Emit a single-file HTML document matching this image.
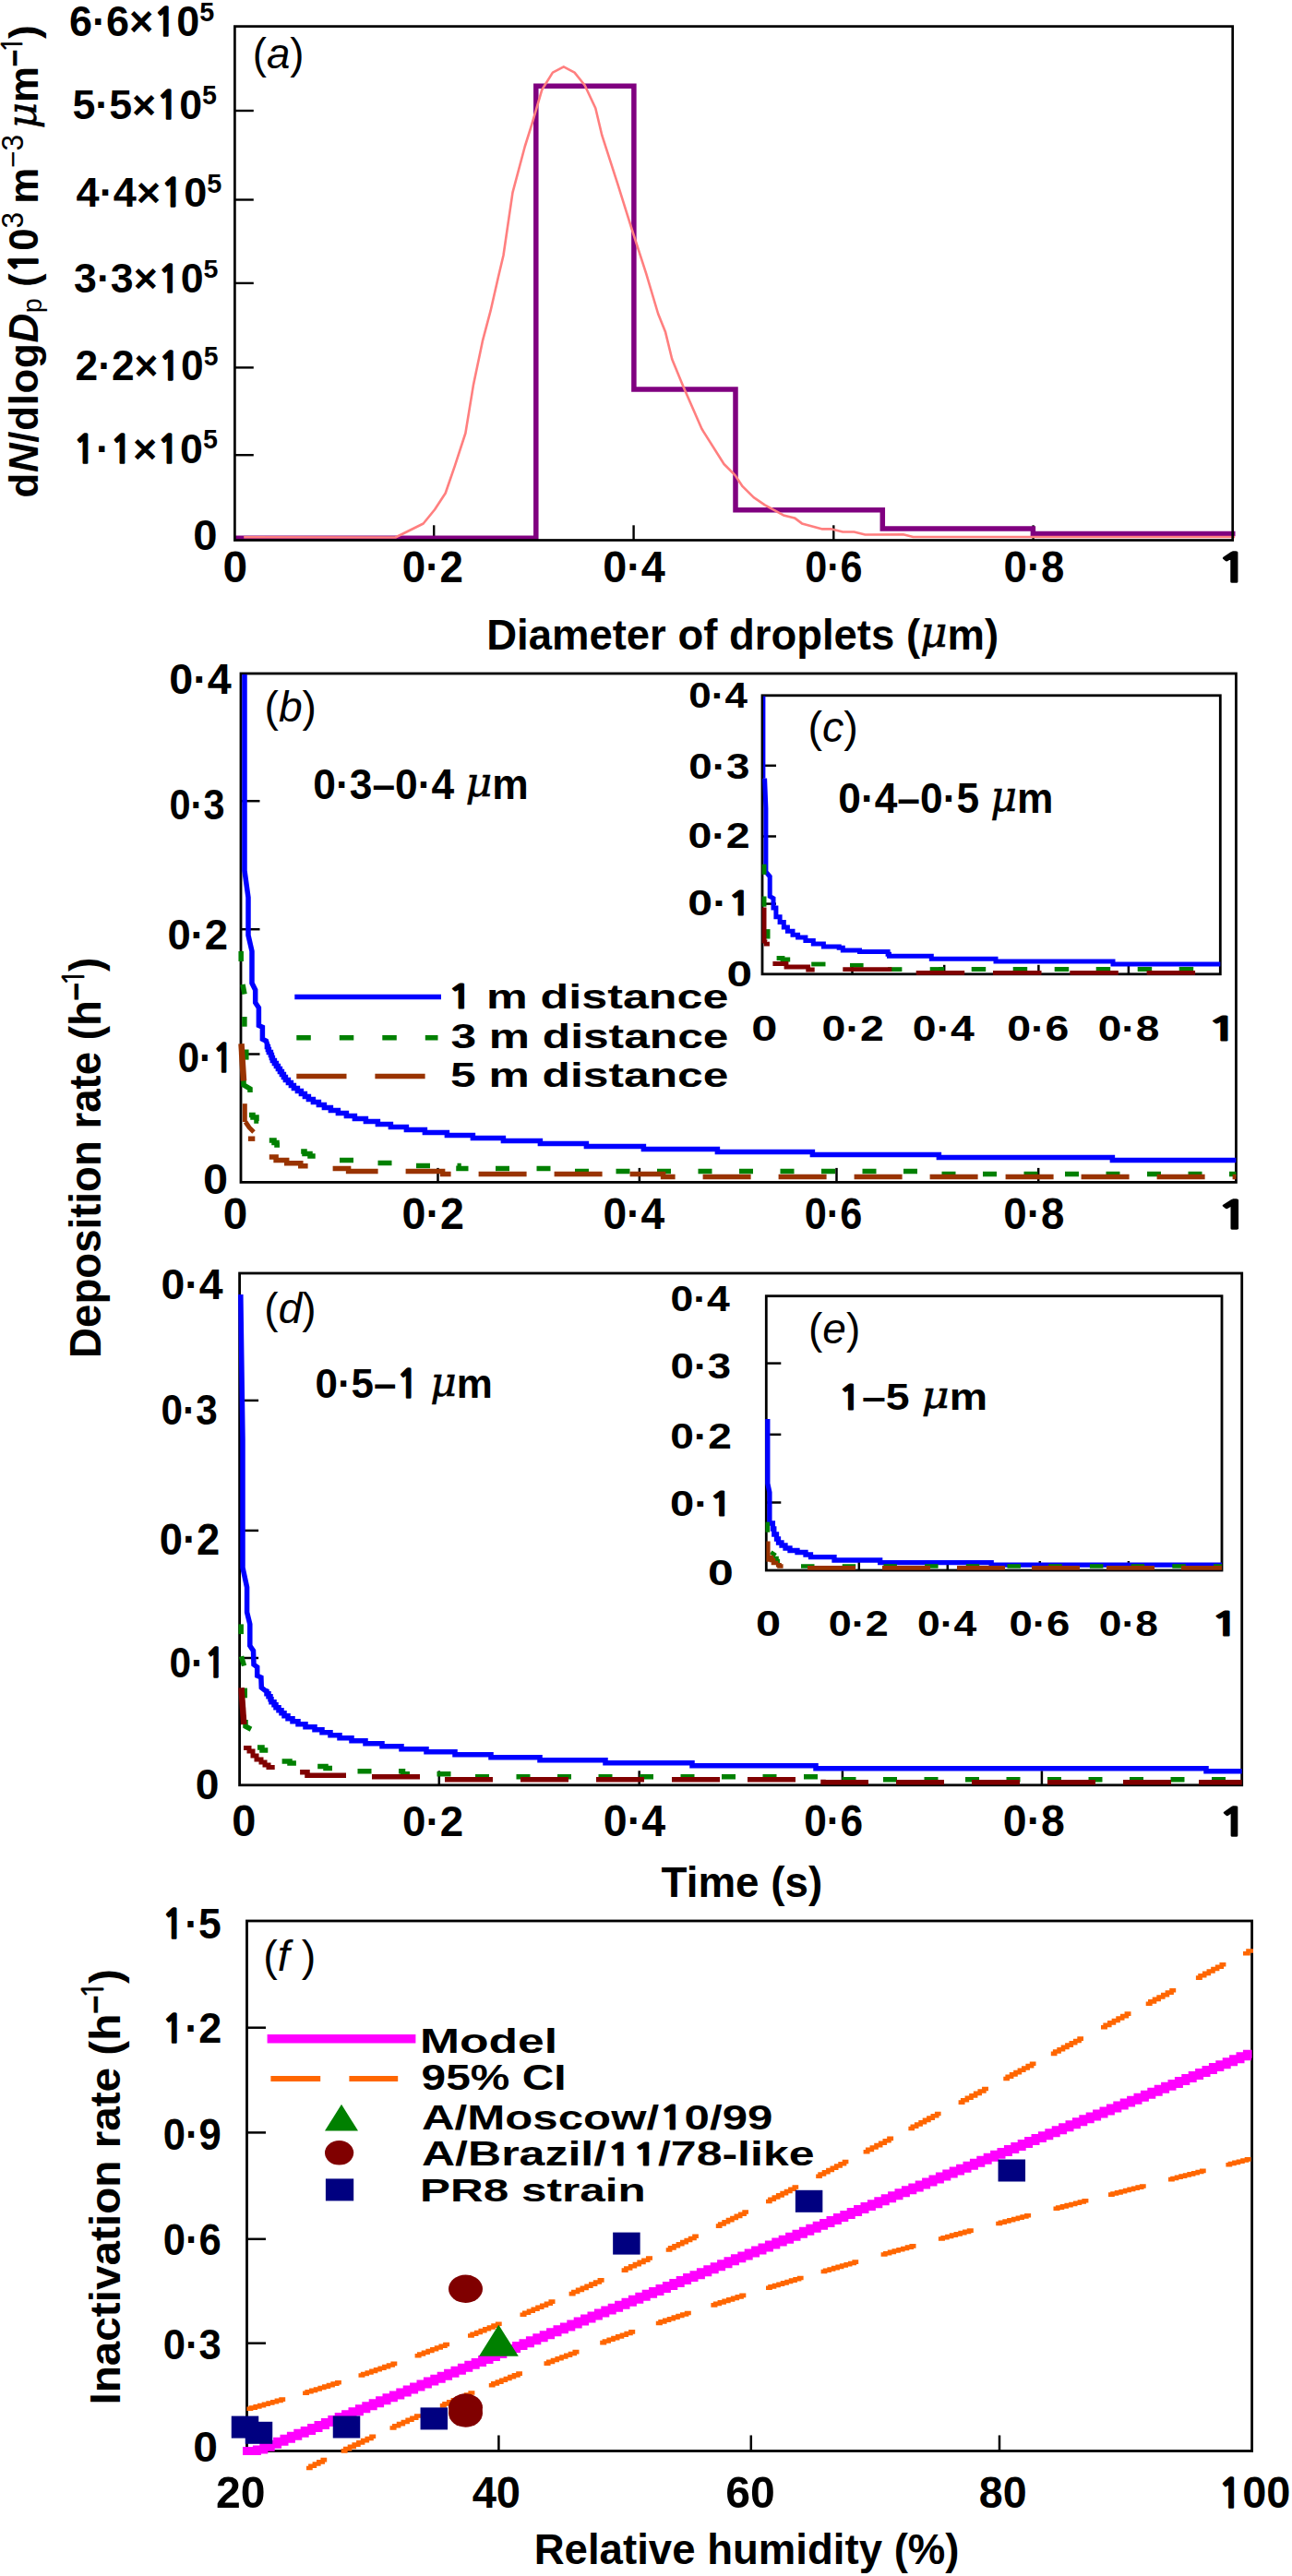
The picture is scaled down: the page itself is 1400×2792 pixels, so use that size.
<!DOCTYPE html>
<html><head><meta charset="utf-8"><title>Figure</title>
<style>html,body{margin:0;padding:0;background:#fff}svg{display:block}</style></head>
<body><svg width="1400" height="2792" viewBox="0 0 1400 2792">
<rect width="1400" height="2792" fill="#fff"/>
<line x1="254.40" y1="493.20" x2="274.80" y2="493.20" stroke="#000" stroke-width="2.4" />
<line x1="254.40" y1="398.40" x2="274.80" y2="398.40" stroke="#000" stroke-width="2.4" />
<line x1="254.40" y1="306.90" x2="274.80" y2="306.90" stroke="#000" stroke-width="2.4" />
<line x1="254.40" y1="216.50" x2="274.80" y2="216.50" stroke="#000" stroke-width="2.4" />
<line x1="254.40" y1="120.00" x2="274.80" y2="120.00" stroke="#000" stroke-width="2.4" />
<line x1="470.20" y1="585.30" x2="470.20" y2="569.30" stroke="#000" stroke-width="2.4" />
<line x1="686.60" y1="585.30" x2="686.60" y2="569.30" stroke="#000" stroke-width="2.4" />
<line x1="903.30" y1="585.30" x2="903.30" y2="569.30" stroke="#000" stroke-width="2.4" />
<line x1="1119.60" y1="585.30" x2="1119.60" y2="569.30" stroke="#000" stroke-width="2.4" />
<path d="M254.2 583.3 H580.8 V93.3 H686.9 V422.0 H797.0 V552.7 H956.3 V573.0 H1119.4 V578.4 H1338.5" fill="none" stroke="#800080" stroke-width="5.5" stroke-linejoin="miter"/>
<path d="M264.20 582.30 L428.50 582.50 L458.70 567.50 L471.10 552.30 L482.70 534.50 L492.80 505.10 L504.40 469.50 L512.90 417.60 L522.90 369.70 L531.50 337.20 L540.00 300.00 L545.50 276.70 L555.50 208.60 L568.70 159.00 L576.40 134.30 L587.30 97.20 L598.90 78.60 L610.80 72.40 L622.60 78.60 L633.70 92.50 L645.30 117.30 L652.30 146.70 L669.30 199.30 L684.80 248.90 L700.30 296.80 L713.10 340.00 L721.10 360.10 L728.20 389.30 L740.20 418.50 L760.40 464.80 L784.50 503.00 L796.60 515.10 L804.60 527.20 L816.70 539.20 L828.80 547.30 L848.90 558.40 L861.00 561.40 L869.00 567.40 L891.20 573.40 L901.20 573.40 L913.30 576.50 L925.40 576.50 L937.50 579.50 L978.70 579.30 L989.50 582.00 L1338.00 582.00" fill="none" stroke="#ff7f7f" stroke-width="2.6" stroke-linejoin="round"/>
<rect x="254.40" y="28.60" width="1081.30" height="556.90" fill="none" stroke="#000" stroke-width="2.7"/>
<rect x="261.00" y="730.00" width="1078.40" height="551.40" fill="none" stroke="#000" stroke-width="2.8"/>
<line x1="261.00" y1="1142.50" x2="281.50" y2="1142.50" stroke="#000" stroke-width="2.5" />
<line x1="261.00" y1="1007.20" x2="281.50" y2="1007.20" stroke="#000" stroke-width="2.5" />
<line x1="261.00" y1="868.20" x2="281.50" y2="868.20" stroke="#000" stroke-width="2.5" />
<line x1="474.50" y1="1281.40" x2="474.50" y2="1265.90" stroke="#000" stroke-width="2.5" />
<line x1="692.90" y1="1281.40" x2="692.90" y2="1265.90" stroke="#000" stroke-width="2.5" />
<line x1="906.50" y1="1281.40" x2="906.50" y2="1265.90" stroke="#000" stroke-width="2.5" />
<line x1="1125.20" y1="1281.40" x2="1125.20" y2="1265.90" stroke="#000" stroke-width="2.5" />
<path d="M265.00 731.00 L265.00 943.50 L269.00 972.60 L269.00 1013.60 L273.00 1031.00 L273.00 1065.60 L276.70 1073.00 L276.70 1086.70 L280.40 1092.30 L280.40 1111.50 L284.40 1113.30 L284.40 1126.30 L288.40 1128.20 L289.40 1131.40 L289.40 1134.40 L290.40 1134.40 L290.40 1137.40 L291.40 1137.40 L291.40 1140.40 L293.40 1140.40 L293.40 1143.40 L294.40 1143.40 L294.40 1146.40 L295.40 1146.40 L295.40 1149.40 L297.40 1149.40 L297.40 1152.40 L299.40 1152.40 L299.40 1155.40 L301.40 1155.40 L301.40 1158.40 L303.40 1158.40 L303.40 1161.40 L305.40 1161.40 L305.40 1164.40 L307.40 1164.40 L307.40 1167.40 L309.40 1167.40 L309.40 1170.40 L312.40 1170.40 L312.40 1173.40 L315.40 1173.40 L315.40 1176.40 L318.40 1176.40 L318.40 1179.40 L322.40 1179.40 L322.40 1182.40 L326.40 1182.40 L326.40 1185.40 L330.40 1185.40 L330.40 1188.40 L334.40 1188.40 L334.40 1191.40 L339.40 1191.40 L339.40 1194.40 L345.40 1194.40 L345.40 1197.40 L351.40 1197.40 L351.40 1200.40 L358.40 1200.40 L358.40 1203.40 L366.40 1203.40 L366.40 1206.40 L375.40 1206.40 L375.40 1209.40 L384.40 1209.40 L384.40 1212.40 L396.40 1212.40 L396.40 1215.40 L409.40 1215.40 L409.40 1218.40 L423.40 1218.40 L423.40 1221.40 L440.40 1221.40 L440.40 1224.40 L460.40 1224.40 L460.40 1227.40 L484.40 1227.40 L484.40 1230.40 L512.40 1230.40 L512.40 1233.40 L545.40 1233.40 L545.40 1236.40 L585.40 1236.40 L585.40 1239.40 L635.40 1239.40 L635.40 1242.40 L697.40 1242.40 L697.40 1245.40 L777.40 1245.40 L777.40 1248.40 L880.40 1248.40 L880.40 1251.40 L1017.40 1251.40 L1017.40 1254.40 L1205.40 1254.40 L1205.40 1257.40 L1339.40 1257.40" fill="none" stroke="#0000ff" stroke-width="5.5" />
<path d="M261.2 1031 V1042" fill="none" stroke="#008000" stroke-width="5.5" stroke-linejoin="miter"/>
<path d="M263 1067 L265 1077.4" fill="none" stroke="#008000" stroke-width="5.5" stroke-linejoin="miter"/>
<path d="M264.9 1102 V1112.7" fill="none" stroke="#008000" stroke-width="5.5" stroke-linejoin="miter"/>
<path d="M266.8 1137.5 V1148.6" fill="none" stroke="#008000" stroke-width="5.5" stroke-linejoin="miter"/>
<path d="M264 1170.3 V1176 L271 1180 V1184" fill="none" stroke="#008000" stroke-width="5.5" stroke-linejoin="miter"/>
<path d="M270 1208.5 H274 V1211 H278 V1215 H280.2" fill="none" stroke="#008000" stroke-width="5.5" stroke-linejoin="miter"/>
<path d="M291.8 1236 H297 V1238.5 H300 V1241 H303" fill="none" stroke="#008000" stroke-width="5.5" stroke-linejoin="miter"/>
<path d="M326.2 1248 H330 V1250.5 H336 V1253 H341.7" fill="none" stroke="#008000" stroke-width="5.5" stroke-linejoin="miter"/>
<path d="M368.00 1257.40 L390.00 1257.40 L390.00 1260.40 L435.00 1260.40 L435.00 1263.40 L497.00 1263.40 L497.00 1266.40 L608.00 1266.40 L608.00 1269.40 L996.00 1269.40 L996.00 1272.40 L1339.40 1272.40" fill="none" stroke="#008000" stroke-width="5.5" stroke-dasharray="15 29.5"/>
<path d="M261.5 1131.2 L264 1171.5" fill="none" stroke="#993300" stroke-width="6.5" stroke-linejoin="miter"/>
<path d="M265.3 1196.2 V1216" fill="none" stroke="#993300" stroke-width="5" stroke-linejoin="miter"/>
<path d="M266 1216 L270 1222 L275 1227" fill="none" stroke="#993300" stroke-width="5" stroke-linejoin="miter"/>
<path d="M268.9 1234.2 H276.3" fill="none" stroke="#993300" stroke-width="5.4" stroke-linejoin="miter"/>
<path d="M291.8 1253.9 H299.1 V1257.5 H310.7 V1260.7 H325.8 V1263.8 H333.6" fill="none" stroke="#993300" stroke-width="5.5" stroke-linejoin="miter"/>
<path d="M360.60 1266.40 L377.60 1266.40 L377.60 1269.40 L479.60 1269.40 L479.60 1272.40 L718.60 1272.40 L718.60 1275.40 L1339.40 1275.40" fill="none" stroke="#993300" stroke-width="5.5" stroke-dasharray="52 30"/>
<line x1="319.30" y1="1080.50" x2="478.00" y2="1080.50" stroke="#0000ff" stroke-width="5.5" />
<line x1="321.30" y1="1124.70" x2="474.50" y2="1124.70" stroke="#008000" stroke-width="5.5" stroke-dasharray="15.5 31"/>
<line x1="321.30" y1="1166.40" x2="460.60" y2="1166.40" stroke="#993300" stroke-width="5.5" stroke-dasharray="54.2 30.9"/>
<rect x="826" y="753.8" width="496.3" height="302" fill="#fff"/>
<rect x="826.00" y="753.80" width="496.30" height="302.00" fill="none" stroke="#000" stroke-width="2.8"/>
<line x1="826.00" y1="979.60" x2="841.00" y2="979.60" stroke="#000" stroke-width="2.5" />
<line x1="826.00" y1="906.50" x2="841.00" y2="906.50" stroke="#000" stroke-width="2.5" />
<line x1="826.00" y1="829.80" x2="841.00" y2="829.80" stroke="#000" stroke-width="2.5" />
<line x1="923.50" y1="1055.80" x2="923.50" y2="1045.80" stroke="#000" stroke-width="2.5" />
<line x1="1023.20" y1="1055.80" x2="1023.20" y2="1045.80" stroke="#000" stroke-width="2.5" />
<line x1="1125.40" y1="1055.80" x2="1125.40" y2="1045.80" stroke="#000" stroke-width="2.5" />
<line x1="1222.90" y1="1055.80" x2="1222.90" y2="1045.80" stroke="#000" stroke-width="2.5" />
<path d="M828.2 754.5 V843.7" fill="none" stroke="#0000ff" stroke-width="2.4" />
<path d="M828.6 843.7 L829.9 876 V945 L834.2 950 V971.5 L838 973.6 V984 H840.9 V993.8 H845.1 V999.4 H849.3 V1005 H853.4 V1009.2 H859 V1013.3 H864.6 V1016.1 H872.9 V1019.6 H881.3 V1023.1 H892.4 V1025.9 H909.2 V1027.3 H913.3 V1030.1 H931.5 V1031.5 H962.1 V1034.2 H963.5 V1036.3 H1009.3 V1039.2 H1079 V1041.9 H1206 V1045 H1322.3" fill="none" stroke="#0000ff" stroke-width="5.0" stroke-linejoin="miter"/>
<path d="M828.1 936.7 V947.9" fill="none" stroke="#008000" stroke-width="4.8" stroke-linejoin="miter"/>
<path d="M828.1 971.5 V982.7" fill="none" stroke="#008000" stroke-width="4.8" stroke-linejoin="miter"/>
<path d="M832.1 1007.1 V1017.5" fill="none" stroke="#008000" stroke-width="4.8" stroke-linejoin="miter"/>
<path d="M841.6 1038.5 H848 V1040 H856.2" fill="none" stroke="#008000" stroke-width="4.8" stroke-linejoin="miter"/>
<path d="M879.2 1045 H894.5" fill="none" stroke="#008000" stroke-width="4.8" stroke-linejoin="miter"/>
<path d="M921 1046.3 H935.6" fill="none" stroke="#008000" stroke-width="4.8" stroke-linejoin="miter"/>
<path d="M962.1 1050.6 H977.4" fill="none" stroke="#008000" stroke-width="4.8" stroke-linejoin="miter"/>
<path d="M1007.7 1050.5 H1322" fill="none" stroke="#008000" stroke-width="4.8" stroke-dasharray="15.5 29.5"/>
<path d="M828.1 983.4 V1020.3 L831 1021" fill="none" stroke="#800000" stroke-width="4.8" stroke-linejoin="miter"/>
<path d="M827.7 1023.1 H833.9" fill="none" stroke="#800000" stroke-width="4.8" stroke-linejoin="miter"/>
<path d="M837.4 1044.5 H852 V1048 H875.7 V1051 H882.7" fill="none" stroke="#800000" stroke-width="4.8" stroke-linejoin="miter"/>
<path d="M913.3 1050.6 H966.3" fill="none" stroke="#800000" stroke-width="4.8" stroke-linejoin="miter"/>
<path d="M992.7 1054.3 H1322" fill="none" stroke="#800000" stroke-width="4.8" stroke-dasharray="52.5 30.8"/>
<rect x="259.60" y="1380.00" width="1086.10" height="554.80" fill="none" stroke="#000" stroke-width="2.8"/>
<line x1="259.60" y1="1797.00" x2="280.10" y2="1797.00" stroke="#000" stroke-width="2.5" />
<line x1="259.60" y1="1658.90" x2="280.10" y2="1658.90" stroke="#000" stroke-width="2.5" />
<line x1="259.60" y1="1517.90" x2="280.10" y2="1517.90" stroke="#000" stroke-width="2.5" />
<line x1="475.80" y1="1934.80" x2="475.80" y2="1919.30" stroke="#000" stroke-width="2.5" />
<line x1="692.70" y1="1934.80" x2="692.70" y2="1919.30" stroke="#000" stroke-width="2.5" />
<line x1="912.90" y1="1934.80" x2="912.90" y2="1919.30" stroke="#000" stroke-width="2.5" />
<line x1="1128.90" y1="1934.80" x2="1128.90" y2="1919.30" stroke="#000" stroke-width="2.5" />
<path d="M260.80 1403.00 L263.00 1560.00 L263.00 1699.20 L267.60 1720.30 L267.60 1747.40 L270.80 1760.40 L270.80 1783.70 L274.50 1789.20 L275.00 1804.10 L278.70 1806.90 L278.70 1816.20 L282.90 1818.00 L283.30 1829.20 L287.00 1832.00 L289.00 1832.80 L289.00 1835.80 L291.00 1835.80 L291.00 1838.80 L293.00 1838.80 L293.00 1841.80 L294.00 1841.80 L294.00 1844.80 L297.00 1844.80 L297.00 1847.80 L299.00 1847.80 L299.00 1850.80 L302.00 1850.80 L302.00 1853.80 L305.00 1853.80 L305.00 1856.80 L308.00 1856.80 L308.00 1859.80 L312.00 1859.80 L312.00 1862.80 L317.00 1862.80 L317.00 1865.80 L323.00 1865.80 L323.00 1868.80 L331.00 1868.80 L331.00 1871.80 L341.00 1871.80 L341.00 1874.80 L349.00 1874.80 L349.00 1877.80 L358.00 1877.80 L358.00 1880.80 L368.00 1880.80 L368.00 1883.80 L381.00 1883.80 L381.00 1886.80 L396.00 1886.80 L396.00 1889.80 L414.00 1889.80 L414.00 1892.80 L435.00 1892.80 L435.00 1895.80 L462.00 1895.80 L462.00 1898.80 L493.00 1898.80 L493.00 1901.80 L532.00 1901.80 L532.00 1904.80 L585.00 1904.80 L585.00 1907.80 L656.00 1907.80 L656.00 1910.80 L750.00 1910.80 L750.00 1913.80 L884.00 1913.80 L884.00 1916.80 L1307.00 1916.80 L1307.00 1919.80 L1345.70 1919.80" fill="none" stroke="#0000ff" stroke-width="5.5" />
<path d="M261.2 1760.4 V1771.1" fill="none" stroke="#008000" stroke-width="5.5" stroke-linejoin="miter"/>
<path d="M261.5 1795.3 L264.5 1805.5" fill="none" stroke="#008000" stroke-width="5.5" stroke-linejoin="miter"/>
<path d="M265.2 1829.6 V1840.3" fill="none" stroke="#008000" stroke-width="5.5" stroke-linejoin="miter"/>
<path d="M266 1864 V1871 L272 1874.2" fill="none" stroke="#008000" stroke-width="5.5" stroke-linejoin="miter"/>
<path d="M279 1894 H284 V1897 H290.3" fill="none" stroke="#008000" stroke-width="5.5" stroke-linejoin="miter"/>
<path d="M305.6 1909 H314 V1911 H320.9" fill="none" stroke="#008000" stroke-width="5.5" stroke-linejoin="miter"/>
<path d="M344.2 1914.5 H353 V1916.5 H360" fill="none" stroke="#008000" stroke-width="5.5" stroke-linejoin="miter"/>
<path d="M387.50 1919.80 L436.50 1919.80 L436.50 1922.80 L512.50 1922.80 L512.50 1925.80 L895.50 1925.80 L895.50 1928.80 L1345.70 1928.80" fill="none" stroke="#008000" stroke-width="5.5" stroke-dasharray="15 29.5"/>
<path d="M261.5 1829.2 L264.3 1869.1" fill="none" stroke="#800000" stroke-width="6.5" stroke-linejoin="miter"/>
<path d="M264 1894.5 H270 V1898 H274 V1903 H278 V1907 H283 V1910 H287 V1913 H291 V1915.5 H297.7" fill="none" stroke="#800000" stroke-width="5" stroke-linejoin="miter"/>
<path d="M325.1 1920.8 H333 V1924.3 H375" fill="none" stroke="#800000" stroke-width="5.5" stroke-linejoin="miter"/>
<path d="M403.00 1925.80 L481.00 1925.80 L481.00 1928.80 L892.00 1928.80 L892.00 1931.80 L1345.70 1931.80" fill="none" stroke="#800000" stroke-width="5.5" stroke-dasharray="52 30"/>
<rect x="830.3" y="1404.7" width="493.7" height="297.3" fill="#fff"/>
<rect x="830.30" y="1404.70" width="493.70" height="297.30" fill="none" stroke="#000" stroke-width="2.8"/>
<line x1="830.30" y1="1628.50" x2="846.30" y2="1628.50" stroke="#000" stroke-width="2.5" />
<line x1="830.30" y1="1554.80" x2="846.30" y2="1554.80" stroke="#000" stroke-width="2.5" />
<line x1="830.30" y1="1477.60" x2="846.30" y2="1477.60" stroke="#000" stroke-width="2.5" />
<line x1="930.80" y1="1702.00" x2="930.80" y2="1692.00" stroke="#000" stroke-width="2.5" />
<line x1="1026.80" y1="1702.00" x2="1026.80" y2="1692.00" stroke="#000" stroke-width="2.5" />
<line x1="1126.80" y1="1702.00" x2="1126.80" y2="1692.00" stroke="#000" stroke-width="2.5" />
<line x1="1222.90" y1="1702.00" x2="1222.90" y2="1692.00" stroke="#000" stroke-width="2.5" />
<path d="M831.8 1538.1 V1607.8 L833.9 1617.5 V1651 H837.4 V1657 H838.8 V1663 H841.5 V1668 H843.5 V1672 H847 V1675 H851 V1678 H856 V1680.5 H864 V1682.5 H873 V1685 H878.5 V1687.7 H904 V1691 H953.7 V1693.6 H1074.2 V1696.2 H1324" fill="none" stroke="#0000ff" stroke-width="5.3" stroke-linejoin="miter"/>
<path d="M831.8 1649.6 V1660.7" fill="none" stroke="#008000" stroke-width="4.6" stroke-linejoin="miter"/>
<path d="M835.3 1682.3 L840.5 1685.8" fill="none" stroke="#008000" stroke-width="4.6" stroke-linejoin="miter"/>
<path d="M838.1 1689 H841.5 V1692 H845.1" fill="none" stroke="#008000" stroke-width="4.6" stroke-linejoin="miter"/>
<path d="M868 1697.5 H1324" fill="none" stroke="#008000" stroke-width="4.6" stroke-dasharray="14.5 30.2"/>
<path d="M832.5 1670.5 V1692.7" fill="none" stroke="#993300" stroke-width="4.2" stroke-linejoin="miter"/>
<path d="M833.9 1688 H836 V1691 H838 V1694 H841 V1696.2" fill="none" stroke="#993300" stroke-width="4.6" stroke-linejoin="miter"/>
<path d="M840.9 1696.2 H844.5 V1697.5 H848.6" fill="none" stroke="#993300" stroke-width="4.6" stroke-linejoin="miter"/>
<path d="M875 1699.3 H1324" fill="none" stroke="#993300" stroke-width="4.8" stroke-dasharray="52 29"/>
<rect x="267.50" y="2082.00" width="1089.10" height="574.50" fill="none" stroke="#000" stroke-width="2.8"/>
<line x1="267.50" y1="2539.70" x2="288.00" y2="2539.70" stroke="#000" stroke-width="2.5" />
<line x1="267.50" y1="2426.80" x2="288.00" y2="2426.80" stroke="#000" stroke-width="2.5" />
<line x1="267.50" y1="2311.40" x2="288.00" y2="2311.40" stroke="#000" stroke-width="2.5" />
<line x1="267.50" y1="2197.70" x2="288.00" y2="2197.70" stroke="#000" stroke-width="2.5" />
<line x1="540.40" y1="2656.50" x2="540.40" y2="2639.50" stroke="#000" stroke-width="2.5" />
<line x1="813.80" y1="2656.50" x2="813.80" y2="2639.50" stroke="#000" stroke-width="2.5" />
<line x1="1083.00" y1="2656.50" x2="1083.00" y2="2639.50" stroke="#000" stroke-width="2.5" />
<path d="M267.40 2610.81 H272.04 V2609.58 H276.69 V2608.34 H281.33 V2607.08 H285.98 V2605.81 H290.62 V2604.53 H295.27 V2603.23 H299.91 V2601.92 H304.56 V2600.60 H309.20 M328.10 2593.71 H332.74 V2592.31 H337.39 V2590.90 H342.03 V2589.47 H346.68 V2588.04 H351.32 V2586.59 H355.97 V2585.13 H360.61 V2583.66 H365.26 V2582.18 H369.90 M388.50 2574.57 H393.14 V2573.02 H397.79 V2571.45 H402.43 V2569.88 H407.08 V2568.29 H411.72 V2566.69 H416.37 V2565.08 H421.01 V2563.46 H425.66 V2561.83 H430.30 M449.60 2553.23 H454.29 V2551.52 H458.98 V2549.79 H463.66 V2548.06 H468.35 V2546.31 H473.04 V2544.55 H477.73 V2542.79 H482.41 V2541.01 H487.10 M507.00 2531.54 H511.59 V2529.74 H516.17 V2527.93 H520.76 V2526.11 H525.35 V2524.28 H529.94 V2522.45 H534.52 V2520.60 H539.11 V2518.74 H543.70 M563.50 2508.70 H568.25 V2506.72 H573.00 V2504.73 H577.75 V2502.74 H582.50 V2500.73 H587.25 V2498.72 H592.00 V2496.69 H596.75 V2494.66 H601.50 M616.60 2486.08 H621.35 V2484.00 H626.10 V2481.92 H630.85 V2479.83 H635.60 V2477.73 H640.35 V2475.62 H645.10 V2473.51 H649.85 V2471.38 H654.60 M673.60 2460.65 H678.37 V2458.47 H683.14 V2456.28 H687.91 V2454.09 H692.69 V2451.89 H697.46 V2449.68 H702.23 V2447.47 H707.00 M721.70 2438.45 H726.10 V2436.38 H730.50 V2434.30 H734.90 V2432.21 H739.30 V2430.12 H743.70 V2428.03 H748.10 V2425.93 H752.50 V2423.82 H756.90 M775.80 2412.59 H780.20 V2410.46 H784.60 V2408.31 H789.00 V2406.17 H793.40 V2404.02 H797.80 V2401.86 H802.20 V2399.70 H806.60 V2397.54 H811.00 M830.00 2385.95 H834.40 V2383.76 H838.80 V2381.57 H843.20 V2379.37 H847.60 V2377.16 H852.00 V2374.96 H856.40 V2372.75 H860.80 V2370.53 H865.20 M884.20 2358.70 H888.60 V2356.46 H893.00 V2354.22 H897.40 V2351.98 H901.80 V2349.73 H906.20 V2347.48 H910.60 V2345.23 H915.00 V2342.98 H919.40 M935.60 2332.32 H940.24 V2329.92 H944.89 V2327.53 H949.53 V2325.12 H954.17 V2322.72 H958.81 V2320.31 H963.46 V2317.91 H968.10 M984.40 2307.07 H988.80 V2304.78 H993.20 V2302.48 H997.60 V2300.19 H1002.00 V2297.89 H1006.40 V2295.58 H1010.80 V2293.28 H1015.20 V2290.98 H1019.60 M1038.60 2278.64 H1043.23 V2276.21 H1047.86 V2273.77 H1052.49 V2271.34 H1057.11 V2268.90 H1061.74 V2266.46 H1066.37 V2264.03 H1071.00 M1087.30 2253.05 H1091.70 V2250.73 H1096.10 V2248.41 H1100.50 V2246.09 H1104.90 V2243.77 H1109.30 V2241.45 H1113.70 V2239.13 H1118.10 V2236.81 H1122.50 M1138.80 2225.88 H1143.20 V2223.56 H1147.60 V2221.24 H1152.00 V2218.92 H1156.40 V2216.60 H1160.80 V2214.28 H1165.20 V2211.96 H1169.60 V2209.65 H1174.00 M1193.00 2197.27 H1197.64 V2194.83 H1202.29 V2192.39 H1206.93 V2189.96 H1211.57 V2187.52 H1216.21 V2185.09 H1220.86 V2182.66 H1225.50 M1241.70 2171.76 H1246.34 V2169.34 H1250.99 V2166.92 H1255.63 V2164.50 H1260.27 V2162.08 H1264.91 V2159.67 H1269.56 V2157.26 H1274.20 M1295.90 2143.62 H1300.54 V2141.23 H1305.19 V2138.84 H1309.83 V2136.45 H1314.47 V2134.06 H1319.11 V2131.68 H1323.76 V2129.30 H1328.40 M1347.00 2117.23 H1352.50 V2114.44 H1358.00" fill="none" stroke="#ff6600" stroke-width="4.6" stroke-linejoin="miter"/>
<path d="M332.00 2675.01 H336.44 V2672.77 H340.88 V2670.55 H345.32 V2668.34 H349.76 V2666.14 H354.20 M369.60 2656.37 H374.30 V2654.10 H379.00 V2651.84 H383.70 V2649.60 H388.40 V2647.36 H393.10 V2645.14 H397.80 V2642.93 H402.50 V2640.73 H407.20 M422.50 2631.48 H427.29 V2629.30 H432.07 V2627.13 H436.86 V2624.97 H441.64 V2622.82 H446.43 V2620.69 H451.21 V2618.56 H456.00 M476.80 2607.41 H481.50 V2605.39 H486.20 V2603.38 H490.90 V2601.39 H495.60 V2599.40 H500.30 V2597.42 H505.00 V2595.45 H509.70 V2593.49 H514.40 M529.80 2585.26 H534.32 V2583.42 H538.85 V2581.59 H543.37 V2579.77 H547.90 V2577.96 H552.42 V2576.16 H556.95 V2574.37 H561.48 V2572.58 H566.00 M589.50 2561.67 H594.25 V2559.86 H599.00 V2558.05 H603.75 V2556.26 H608.50 V2554.48 H613.25 V2552.70 H618.00 V2550.93 H622.75 V2549.17 H627.50 M650.20 2539.17 H654.95 V2537.47 H659.70 V2535.77 H664.45 V2534.09 H669.20 V2532.41 H673.95 V2530.74 H678.70 V2529.07 H683.45 V2527.42 H688.20 M710.80 2518.03 H715.55 V2516.42 H720.30 V2514.82 H725.05 V2513.23 H729.80 V2511.65 H734.55 V2510.07 H739.30 V2508.50 H744.05 V2506.94 H748.80 M770.40 2498.39 H775.14 V2496.87 H779.87 V2495.36 H784.61 V2493.86 H789.35 V2492.36 H794.09 V2490.87 H798.82 V2489.38 H803.56 V2487.91 H808.30 M830.00 2479.79 H834.51 V2478.42 H839.02 V2477.05 H843.53 V2475.69 H848.04 V2474.33 H852.56 V2472.98 H857.07 V2471.63 H861.58 V2470.29 H866.09 V2468.95 H870.60 M889.60 2462.04 H894.11 V2460.73 H898.62 V2459.43 H903.13 V2458.12 H907.64 V2456.83 H912.16 V2455.53 H916.67 V2454.24 H921.18 V2452.96 H925.69 V2451.67 H930.20 M954.60 2443.51 H959.34 V2442.19 H964.07 V2440.88 H968.81 V2439.57 H973.55 V2438.26 H978.29 V2436.96 H983.02 V2435.66 H987.76 V2434.37 H992.50 M1016.90 2426.47 H1021.64 V2425.20 H1026.38 V2423.93 H1031.11 V2422.66 H1035.85 V2421.40 H1040.59 V2420.13 H1045.32 V2418.88 H1050.06 V2417.62 H1054.80 M1079.20 2409.95 H1083.94 V2408.71 H1088.67 V2407.47 H1093.41 V2406.24 H1098.15 V2405.01 H1102.89 V2403.78 H1107.62 V2402.55 H1112.36 V2401.32 H1117.10 M1141.50 2393.81 H1146.24 V2392.59 H1150.97 V2391.37 H1155.71 V2390.16 H1160.45 V2388.95 H1165.19 V2387.74 H1169.92 V2386.53 H1174.66 V2385.32 H1179.40 M1201.00 2378.63 H1205.52 V2377.48 H1210.04 V2376.33 H1214.57 V2375.18 H1219.09 V2374.03 H1223.61 V2372.88 H1228.13 V2371.73 H1232.66 V2370.58 H1237.18 V2369.44 H1241.70 M1266.00 2362.11 H1270.52 V2360.96 H1275.04 V2359.81 H1279.57 V2358.66 H1284.09 V2357.51 H1288.61 V2356.36 H1293.13 V2355.20 H1297.66 V2354.05 H1302.18 V2352.90 H1306.70 M1328.40 2346.19 H1332.92 V2345.03 H1337.43 V2343.87 H1341.95 V2342.71 H1346.47 V2341.54 H1350.98 V2340.38 H1355.50" fill="none" stroke="#ff6600" stroke-width="4.6" stroke-linejoin="miter"/>
<path d="M263 2656.6 H278.4 V2655.12 H285.80 V2652.16 H293.20 V2649.20 H300.60 V2646.24 H308.00 V2643.28 H315.40 V2640.32 H322.80 V2637.36 H330.20 V2634.39 H337.60 V2631.43 H345.00 V2628.47 H352.40 V2625.51 H359.80 V2622.55 H367.20 V2619.59 H374.60 V2616.63 H382.00 V2613.67 H389.40 V2610.71 H396.80 V2607.75 H404.20 V2604.79 H411.60 V2601.83 H419.00 V2598.87 H426.40 V2595.90 H433.80 V2592.94 H441.20 V2589.98 H448.60 V2587.02 H456.00 V2584.06 H463.40 V2581.10 H470.80 V2578.14 H478.20 V2575.18 H485.60 V2572.22 H493.00 V2569.26 H500.40 V2566.30 H507.80 V2563.34 H515.20 V2560.38 H522.60 V2557.42 H530.00 V2554.45 H537.40 V2551.49 H544.80 V2548.53 H552.20 V2545.57 H559.60 V2542.61 H567.00 V2539.65 H574.40 V2536.69 H581.80 V2533.73 H589.20 V2530.77 H596.60 V2527.81 H604.00 V2524.85 H611.40 V2521.89 H618.80 V2518.93 H626.20 V2515.96 H633.60 V2513.00 H641.00 V2510.04 H648.40 V2507.08 H655.80 V2504.12 H663.20 V2501.16 H670.60 V2498.20 H678.00 V2495.24 H685.40 V2492.28 H692.80 V2489.32 H700.20 V2486.36 H707.60 V2483.40 H715.00 V2480.44 H722.40 V2477.48 H729.80 V2474.51 H737.20 V2471.55 H744.60 V2468.59 H752.00 V2465.63 H759.40 V2462.67 H766.80 V2459.71 H774.20 V2456.75 H781.60 V2453.79 H789.00 V2450.83 H796.40 V2447.87 H803.80 V2444.91 H811.20 V2441.95 H818.60 V2438.99 H826.00 V2436.02 H833.40 V2433.06 H840.80 V2430.10 H848.20 V2427.14 H855.60 V2424.18 H863.00 V2421.22 H870.40 V2418.26 H877.80 V2415.30 H885.20 V2412.34 H892.60 V2409.38 H900.00 V2406.42 H907.40 V2403.46 H914.80 V2400.50 H922.20 V2397.54 H929.60 V2394.57 H937.00 V2391.61 H944.40 V2388.65 H951.80 V2385.69 H959.20 V2382.73 H966.60 V2379.77 H974.00 V2376.81 H981.40 V2373.85 H988.80 V2370.89 H996.20 V2367.93 H1003.60 V2364.97 H1011.00 V2362.01 H1018.40 V2359.05 H1025.80 V2356.08 H1033.20 V2353.12 H1040.60 V2350.16 H1048.00 V2347.20 H1055.40 V2344.24 H1062.80 V2341.28 H1070.20 V2338.32 H1077.60 V2335.36 H1085.00 V2332.40 H1092.40 V2329.44 H1099.80 V2326.48 H1107.20 V2323.52 H1114.60 V2320.56 H1122.00 V2317.60 H1129.40 V2314.63 H1136.80 V2311.67 H1144.20 V2308.71 H1151.60 V2305.75 H1159.00 V2302.79 H1166.40 V2299.83 H1173.80 V2296.87 H1181.20 V2293.91 H1188.60 V2290.95 H1196.00 V2287.99 H1203.40 V2285.03 H1210.80 V2282.07 H1218.20 V2279.11 H1225.60 V2276.14 H1233.00 V2273.18 H1240.40 V2270.22 H1247.80 V2267.26 H1255.20 V2264.30 H1262.60 V2261.34 H1270.00 V2258.38 H1277.40 V2255.42 H1284.80 V2252.46 H1292.20 V2249.50 H1299.60 V2246.54 H1307.00 V2243.58 H1314.40 V2240.62 H1321.80 V2237.66 H1329.20 V2234.69 H1336.60 V2231.73 H1344.00 V2228.77 H1351.40 V2226.25 H1356.60" fill="none" stroke="#ff00ff" stroke-width="9.0" stroke-linejoin="miter"/>
<line x1="289.60" y1="2209.80" x2="450.40" y2="2209.80" stroke="#ff00ff" stroke-width="9.5" />
<line x1="293.40" y1="2253.00" x2="431.20" y2="2253.00" stroke="#ff6600" stroke-width="6" stroke-dasharray="53.8 31.2"/>
<polygon points="370,2280.8 388,2309.6 352,2309.6" fill="#008000"/>
<ellipse cx="367.6" cy="2333.3" rx="15.6" ry="13.2" fill="#800000"/>
<rect x="352.9" y="2361.4" width="30.3" height="24" fill="#000080"/>
<rect x="250.75" y="2618.60" width="29.5" height="24" fill="#000080"/>
<rect x="265.75" y="2624.80" width="29.5" height="24" fill="#000080"/>
<rect x="360.75" y="2618.50" width="29.5" height="24" fill="#000080"/>
<rect x="455.55" y="2609.40" width="29.5" height="24" fill="#000080"/>
<rect x="664.15" y="2419.60" width="29.5" height="24" fill="#000080"/>
<rect x="861.85" y="2373.80" width="29.5" height="24" fill="#000080"/>
<rect x="1081.55" y="2340.50" width="29.5" height="24" fill="#000080"/>
<ellipse cx="504.5" cy="2480.7" rx="18.5" ry="15.2" fill="#800000"/>
<ellipse cx="504.5" cy="2609.5" rx="18.5" ry="15.2" fill="#800000"/>
<ellipse cx="504.5" cy="2615.5" rx="18.5" ry="15.2" fill="#800000"/>
<polygon points="540.3,2519.8 561.8,2553.8 519.1,2553.8" fill="#008000"/>
<text transform="translate(74.90,39.44) scale(0.45000,0.45694)" font-size="100" font-family="Liberation Sans, Arial, Helvetica, sans-serif" font-weight="bold" fill="#000">6·6×<tspan font-family="NanumGothic, Liberation Sans, sans-serif" font-size="92" stroke="#000" stroke-width="3">1</tspan>0<tspan font-size="64" dy="-35">5</tspan></text>
<text transform="translate(78.46,128.85) scale(0.44754,0.45278)" font-size="100" font-family="Liberation Sans, Arial, Helvetica, sans-serif" font-weight="bold" fill="#000">5·5×<tspan font-family="NanumGothic, Liberation Sans, sans-serif" font-size="92" stroke="#000" stroke-width="3">1</tspan>0<tspan font-size="64" dy="-35">5</tspan></text>
<text transform="translate(82.60,224.45) scale(0.45116,0.45139)" font-size="100" font-family="Liberation Sans, Arial, Helvetica, sans-serif" font-weight="bold" fill="#000">4·4×<tspan font-family="NanumGothic, Liberation Sans, sans-serif" font-size="92" stroke="#000" stroke-width="3">1</tspan>0<tspan font-size="64" dy="-35">5</tspan></text>
<text transform="translate(80.01,316.56) scale(0.44740,0.44444)" font-size="100" font-family="Liberation Sans, Arial, Helvetica, sans-serif" font-weight="bold" fill="#000">3·3×<tspan font-family="NanumGothic, Liberation Sans, sans-serif" font-size="92" stroke="#000" stroke-width="3">1</tspan>0<tspan font-size="64" dy="-35">5</tspan></text>
<text transform="translate(81.57,411.84) scale(0.44290,0.45833)" font-size="100" font-family="Liberation Sans, Arial, Helvetica, sans-serif" font-weight="bold" fill="#000">2·2×<tspan font-family="NanumGothic, Liberation Sans, sans-serif" font-size="92" stroke="#000" stroke-width="3">1</tspan>0<tspan font-size="64" dy="-35">5</tspan></text>
<text transform="translate(79.02,501.95) scale(0.44838,0.45139)" font-size="100" font-family="Liberation Sans, Arial, Helvetica, sans-serif" font-weight="bold" fill="#000"><tspan font-family="NanumGothic, Liberation Sans, sans-serif" font-size="92" stroke="#000" stroke-width="3">1</tspan>·<tspan font-family="NanumGothic, Liberation Sans, sans-serif" font-size="92" stroke="#000" stroke-width="3">1</tspan>×<tspan font-family="NanumGothic, Liberation Sans, sans-serif" font-size="92" stroke="#000" stroke-width="3">1</tspan>0<tspan font-size="64" dy="-35">5</tspan></text>
<text transform="translate(209.21,595.53) scale(0.47234,0.46901)" font-size="100" font-family="Liberation Sans, Arial, Helvetica, sans-serif" font-weight="bold" fill="#000">0</text>
<text transform="translate(241.39,630.73) scale(0.47872,0.47324)" font-size="100" font-family="Liberation Sans, Arial, Helvetica, sans-serif" font-weight="bold" fill="#000">0</text>
<text transform="translate(435.87,630.73) scale(0.45766,0.47324)" font-size="100" font-family="Liberation Sans, Arial, Helvetica, sans-serif" font-weight="bold" fill="#000">0·2</text>
<text transform="translate(653.23,630.73) scale(0.46786,0.47324)" font-size="100" font-family="Liberation Sans, Arial, Helvetica, sans-serif" font-weight="bold" fill="#000">0·4</text>
<text transform="translate(872.17,630.73) scale(0.43212,0.47324)" font-size="100" font-family="Liberation Sans, Arial, Helvetica, sans-serif" font-weight="bold" fill="#000">0·6</text>
<text transform="translate(1087.58,630.73) scale(0.45580,0.47324)" font-size="100" font-family="Liberation Sans, Arial, Helvetica, sans-serif" font-weight="bold" fill="#000">0·8</text>
<text transform="translate(1318.32,630.73) scale(0.63846,0.46667)" font-size="100" font-family="Liberation Sans, Arial, Helvetica, sans-serif" font-weight="bold" fill="#000"><tspan font-family="NanumGothic, Liberation Sans, sans-serif" font-size="92" stroke="#000" stroke-width="3">1</tspan></text>
<text transform="translate(273.87,73.68) scale(0.45545,0.46277)" font-size="100" font-family="Liberation Sans, Arial, Helvetica, sans-serif" font-weight="normal" fill="#000">(<tspan font-style="italic">a</tspan>)</text>
<text transform="translate(527.22,703.80) scale(0.45467,0.47101)" font-size="100" font-family="Liberation Sans, Arial, Helvetica, sans-serif" font-weight="bold" fill="#000">Diameter of droplets (<tspan font-family="DejaVu Serif, Liberation Serif, serif" font-style="italic" font-weight="normal" font-size="100" stroke="#000" stroke-width="1.2" dy="-5">μ</tspan><tspan dy="5">m</tspan>)</text>
<text transform="translate(40.90,539.55) rotate(-90) scale(0.43836,0.44932)" font-size="100" font-family="Liberation Sans, Arial, Helvetica, sans-serif" font-weight="bold" fill="#000"><tspan letter-spacing="1.6">d<tspan font-style="italic">N</tspan>/dlog<tspan font-style="italic">D</tspan></tspan><tspan font-size="66" font-weight="normal" dy="10">p</tspan><tspan dy="-10"> (<tspan font-family="NanumGothic, Liberation Sans, sans-serif" font-size="92" stroke="#000" stroke-width="3">1</tspan>0</tspan><tspan font-size="72" font-weight="normal" dy="-35">3</tspan><tspan dy="35" dx="-7"> m</tspan><tspan font-size="72" font-weight="normal" dy="-35">−3</tspan><tspan dy="35" dx="-13"> </tspan><tspan font-family="DejaVu Serif, Liberation Serif, serif" font-style="italic" font-weight="normal" font-size="100" stroke="#000" stroke-width="1.2" dy="-5">μ</tspan><tspan dy="5">m</tspan><tspan font-size="72" font-weight="bold" stroke="#000" stroke-width="1.5" dy="-32">−</tspan><tspan font-size="68" font-weight="normal" font-family="NanumGothic, Liberation Sans, sans-serif" stroke="#000" stroke-width="1.5" dx="-9" dy="-6">1</tspan><tspan dy="38" dx="-6">)</tspan></text>
<text transform="translate(183.33,752.13) scale(0.46714,0.46901)" font-size="100" font-family="Liberation Sans, Arial, Helvetica, sans-serif" font-weight="bold" fill="#000">0·4</text>
<text transform="translate(183.54,888.43) scale(0.41460,0.46901)" font-size="100" font-family="Liberation Sans, Arial, Helvetica, sans-serif" font-weight="bold" fill="#000">0·3</text>
<text transform="translate(181.38,1028.73) scale(0.45401,0.47042)" font-size="100" font-family="Liberation Sans, Arial, Helvetica, sans-serif" font-weight="bold" fill="#000">0·2</text>
<text transform="translate(192.72,1161.54) scale(0.42066,0.45833)" font-size="100" font-family="Liberation Sans, Arial, Helvetica, sans-serif" font-weight="bold" fill="#000">0·<tspan font-family="NanumGothic, Liberation Sans, sans-serif" font-size="92" stroke="#000" stroke-width="3">1</tspan></text>
<text transform="translate(219.95,1293.53) scale(0.48723,0.46901)" font-size="100" font-family="Liberation Sans, Arial, Helvetica, sans-serif" font-weight="bold" fill="#000">0</text>
<text transform="translate(241.69,1332.33) scale(0.47660,0.47183)" font-size="100" font-family="Liberation Sans, Arial, Helvetica, sans-serif" font-weight="bold" fill="#000">0</text>
<text transform="translate(435.53,1332.33) scale(0.46642,0.47183)" font-size="100" font-family="Liberation Sans, Arial, Helvetica, sans-serif" font-weight="bold" fill="#000">0·2</text>
<text transform="translate(653.45,1332.33) scale(0.46143,0.47183)" font-size="100" font-family="Liberation Sans, Arial, Helvetica, sans-serif" font-weight="bold" fill="#000">0·4</text>
<text transform="translate(871.77,1332.33) scale(0.43285,0.47183)" font-size="100" font-family="Liberation Sans, Arial, Helvetica, sans-serif" font-weight="bold" fill="#000">0·6</text>
<text transform="translate(1087.27,1332.33) scale(0.45725,0.47183)" font-size="100" font-family="Liberation Sans, Arial, Helvetica, sans-serif" font-weight="bold" fill="#000">0·8</text>
<text transform="translate(1317.71,1332.33) scale(0.66923,0.46528)" font-size="100" font-family="Liberation Sans, Arial, Helvetica, sans-serif" font-weight="bold" fill="#000"><tspan font-family="NanumGothic, Liberation Sans, sans-serif" font-size="92" stroke="#000" stroke-width="3">1</tspan></text>
<text transform="translate(286.53,781.84) scale(0.46091,0.46489)" font-size="100" font-family="Liberation Sans, Arial, Helvetica, sans-serif" font-weight="normal" fill="#000">(<tspan font-style="italic">b</tspan>)</text>
<text transform="translate(339.33,865.55) scale(0.44341,0.45493)" font-size="100" font-family="Liberation Sans, Arial, Helvetica, sans-serif" font-weight="bold" fill="#000">0·3–0·4 <tspan font-family="DejaVu Serif, Liberation Serif, serif" font-style="italic" font-weight="normal" font-size="100" stroke="#000" stroke-width="1.2" dy="-5">μ</tspan><tspan dy="5">m</tspan></text>
<text transform="translate(484.87,1093.02) scale(0.50287,0.37838)" font-size="100" font-family="Liberation Sans, Arial, Helvetica, sans-serif" font-weight="bold" fill="#000"><tspan font-family="NanumGothic, Liberation Sans, sans-serif" font-size="92" stroke="#000" stroke-width="3">1</tspan> m distance</text>
<text transform="translate(488.41,1136.33) scale(0.49700,0.37432)" font-size="100" font-family="Liberation Sans, Arial, Helvetica, sans-serif" font-weight="bold" fill="#000">3 m distance</text>
<text transform="translate(487.91,1178.43) scale(0.49783,0.36757)" font-size="100" font-family="Liberation Sans, Arial, Helvetica, sans-serif" font-weight="bold" fill="#000">5 m distance</text>
<text transform="translate(746.34,766.81) scale(0.44000,0.39437)" font-size="100" font-family="Liberation Sans, Arial, Helvetica, sans-serif" font-weight="bold" fill="#000">0·4</text>
<text transform="translate(746.27,844.01) scale(0.45766,0.39437)" font-size="100" font-family="Liberation Sans, Arial, Helvetica, sans-serif" font-weight="bold" fill="#000">0·3</text>
<text transform="translate(745.44,919.11) scale(0.46569,0.39437)" font-size="100" font-family="Liberation Sans, Arial, Helvetica, sans-serif" font-weight="bold" fill="#000">0·2</text>
<text transform="translate(745.37,992.31) scale(0.48182,0.38889)" font-size="100" font-family="Liberation Sans, Arial, Helvetica, sans-serif" font-weight="bold" fill="#000">0·<tspan font-family="NanumGothic, Liberation Sans, sans-serif" font-size="92" stroke="#000" stroke-width="3">1</tspan></text>
<text transform="translate(787.42,1069.21) scale(0.49574,0.39437)" font-size="100" font-family="Liberation Sans, Arial, Helvetica, sans-serif" font-weight="bold" fill="#000">0</text>
<text transform="translate(814.17,1127.51) scale(0.50638,0.39155)" font-size="100" font-family="Liberation Sans, Arial, Helvetica, sans-serif" font-weight="bold" fill="#000">0</text>
<text transform="translate(890.54,1127.51) scale(0.46569,0.39155)" font-size="100" font-family="Liberation Sans, Arial, Helvetica, sans-serif" font-weight="bold" fill="#000">0·2</text>
<text transform="translate(988.84,1127.51) scale(0.46429,0.39155)" font-size="100" font-family="Liberation Sans, Arial, Helvetica, sans-serif" font-weight="bold" fill="#000">0·4</text>
<text transform="translate(1091.14,1127.51) scale(0.46423,0.39155)" font-size="100" font-family="Liberation Sans, Arial, Helvetica, sans-serif" font-weight="bold" fill="#000">0·6</text>
<text transform="translate(1189.66,1127.51) scale(0.46087,0.39155)" font-size="100" font-family="Liberation Sans, Arial, Helvetica, sans-serif" font-weight="bold" fill="#000">0·8</text>
<text transform="translate(1307.49,1127.51) scale(0.63077,0.38611)" font-size="100" font-family="Liberation Sans, Arial, Helvetica, sans-serif" font-weight="bold" fill="#000"><tspan font-family="NanumGothic, Liberation Sans, sans-serif" font-size="92" stroke="#000" stroke-width="3">1</tspan></text>
<text transform="translate(875.40,803.56) scale(0.46731,0.45426)" font-size="100" font-family="Liberation Sans, Arial, Helvetica, sans-serif" font-weight="normal" fill="#000">(<tspan font-style="italic">c</tspan>)</text>
<text transform="translate(908.33,881.33) scale(0.44302,0.47042)" font-size="100" font-family="Liberation Sans, Arial, Helvetica, sans-serif" font-weight="bold" fill="#000">0·4–0·5 <tspan font-family="DejaVu Serif, Liberation Serif, serif" font-style="italic" font-weight="normal" font-size="100" stroke="#000" stroke-width="1.2" dy="-5">μ</tspan><tspan dy="5">m</tspan></text>
<text transform="translate(174.44,1408.03) scale(0.46429,0.46620)" font-size="100" font-family="Liberation Sans, Arial, Helvetica, sans-serif" font-weight="bold" fill="#000">0·4</text>
<text transform="translate(174.61,1544.03) scale(0.42263,0.46620)" font-size="100" font-family="Liberation Sans, Arial, Helvetica, sans-serif" font-weight="bold" fill="#000">0·3</text>
<text transform="translate(172.69,1684.83) scale(0.45328,0.47324)" font-size="100" font-family="Liberation Sans, Arial, Helvetica, sans-serif" font-weight="bold" fill="#000">0·2</text>
<text transform="translate(183.40,1818.23) scale(0.42562,0.46806)" font-size="100" font-family="Liberation Sans, Arial, Helvetica, sans-serif" font-weight="bold" fill="#000">0·<tspan font-family="NanumGothic, Liberation Sans, sans-serif" font-size="92" stroke="#000" stroke-width="3">1</tspan></text>
<text transform="translate(211.65,1949.54) scale(0.46170,0.46479)" font-size="100" font-family="Liberation Sans, Arial, Helvetica, sans-serif" font-weight="bold" fill="#000">0</text>
<text transform="translate(251.32,1989.53) scale(0.47021,0.47183)" font-size="100" font-family="Liberation Sans, Arial, Helvetica, sans-serif" font-weight="bold" fill="#000">0</text>
<text transform="translate(435.97,1989.53) scale(0.45766,0.47183)" font-size="100" font-family="Liberation Sans, Arial, Helvetica, sans-serif" font-weight="bold" fill="#000">0·2</text>
<text transform="translate(653.74,1989.53) scale(0.46571,0.47183)" font-size="100" font-family="Liberation Sans, Arial, Helvetica, sans-serif" font-weight="bold" fill="#000">0·4</text>
<text transform="translate(871.23,1989.53) scale(0.44307,0.47183)" font-size="100" font-family="Liberation Sans, Arial, Helvetica, sans-serif" font-weight="bold" fill="#000">0·6</text>
<text transform="translate(1086.84,1989.53) scale(0.46449,0.47183)" font-size="100" font-family="Liberation Sans, Arial, Helvetica, sans-serif" font-weight="bold" fill="#000">0·8</text>
<text transform="translate(1319.60,1989.53) scale(0.60000,0.46528)" font-size="100" font-family="Liberation Sans, Arial, Helvetica, sans-serif" font-weight="bold" fill="#000"><tspan font-family="NanumGothic, Liberation Sans, sans-serif" font-size="92" stroke="#000" stroke-width="3">1</tspan></text>
<text transform="translate(286.35,1434.10) scale(0.45909,0.46170)" font-size="100" font-family="Liberation Sans, Arial, Helvetica, sans-serif" font-weight="normal" fill="#000">(<tspan font-style="italic">d</tspan>)</text>
<text transform="translate(341.54,1514.85) scale(0.43958,0.45139)" font-size="100" font-family="Liberation Sans, Arial, Helvetica, sans-serif" font-weight="bold" fill="#000">0·5–<tspan font-family="NanumGothic, Liberation Sans, sans-serif" font-size="92" stroke="#000" stroke-width="3">1</tspan> <tspan font-family="DejaVu Serif, Liberation Serif, serif" font-style="italic" font-weight="normal" font-size="100" stroke="#000" stroke-width="1.2" dy="-5">μ</tspan><tspan dy="5">m</tspan></text>
<text transform="translate(726.42,1420.81) scale(0.44571,0.39437)" font-size="100" font-family="Liberation Sans, Arial, Helvetica, sans-serif" font-weight="bold" fill="#000">0·4</text>
<text transform="translate(726.38,1494.11) scale(0.45547,0.39437)" font-size="100" font-family="Liberation Sans, Arial, Helvetica, sans-serif" font-weight="bold" fill="#000">0·3</text>
<text transform="translate(726.15,1570.11) scale(0.46131,0.39437)" font-size="100" font-family="Liberation Sans, Arial, Helvetica, sans-serif" font-weight="bold" fill="#000">0·2</text>
<text transform="translate(726.12,1643.31) scale(0.47107,0.38889)" font-size="100" font-family="Liberation Sans, Arial, Helvetica, sans-serif" font-weight="bold" fill="#000">0·<tspan font-family="NanumGothic, Liberation Sans, sans-serif" font-size="92" stroke="#000" stroke-width="3">1</tspan></text>
<text transform="translate(766.90,1717.61) scale(0.50000,0.39437)" font-size="100" font-family="Liberation Sans, Arial, Helvetica, sans-serif" font-weight="bold" fill="#000">0</text>
<text transform="translate(818.95,1772.92) scale(0.48723,0.38310)" font-size="100" font-family="Liberation Sans, Arial, Helvetica, sans-serif" font-weight="bold" fill="#000">0</text>
<text transform="translate(897.80,1772.92) scale(0.44964,0.38310)" font-size="100" font-family="Liberation Sans, Arial, Helvetica, sans-serif" font-weight="bold" fill="#000">0·2</text>
<text transform="translate(993.92,1772.92) scale(0.44500,0.38310)" font-size="100" font-family="Liberation Sans, Arial, Helvetica, sans-serif" font-weight="bold" fill="#000">0·4</text>
<text transform="translate(1093.58,1772.92) scale(0.45474,0.38310)" font-size="100" font-family="Liberation Sans, Arial, Helvetica, sans-serif" font-weight="bold" fill="#000">0·6</text>
<text transform="translate(1190.83,1772.92) scale(0.44348,0.38310)" font-size="100" font-family="Liberation Sans, Arial, Helvetica, sans-serif" font-weight="bold" fill="#000">0·8</text>
<text transform="translate(1311.43,1772.92) scale(0.57692,0.37778)" font-size="100" font-family="Liberation Sans, Arial, Helvetica, sans-serif" font-weight="bold" fill="#000"><tspan font-family="NanumGothic, Liberation Sans, sans-serif" font-size="92" stroke="#000" stroke-width="3">1</tspan></text>
<text transform="translate(876.04,1456.18) scale(0.46000,0.46277)" font-size="100" font-family="Liberation Sans, Arial, Helvetica, sans-serif" font-weight="normal" fill="#000">(<tspan font-style="italic">e</tspan>)</text>
<text transform="translate(907.95,1527.79) scale(0.46506,0.40833)" font-size="100" font-family="Liberation Sans, Arial, Helvetica, sans-serif" font-weight="bold" fill="#000"><tspan font-family="NanumGothic, Liberation Sans, sans-serif" font-size="92" stroke="#000" stroke-width="3">1</tspan>–5 <tspan font-family="DejaVu Serif, Liberation Serif, serif" font-style="italic" font-weight="normal" font-size="100" stroke="#000" stroke-width="1.2" dy="-5">μ</tspan><tspan dy="5">m</tspan></text>
<text transform="translate(108.90,1471.89) rotate(-90) scale(0.45628,0.47391)" font-size="100" font-family="Liberation Sans, Arial, Helvetica, sans-serif" font-weight="bold" fill="#000">Deposition rate (h<tspan font-size="72" font-weight="bold" stroke="#000" stroke-width="1.5" dy="-32">−</tspan><tspan font-size="68" font-weight="normal" font-family="NanumGothic, Liberation Sans, sans-serif" stroke="#000" stroke-width="1.5" dx="-9" dy="-6">1</tspan><tspan dy="38" dx="-6">)</tspan></text>
<text transform="translate(716.54,2056.40) scale(0.45798,0.46667)" font-size="100" font-family="Liberation Sans, Arial, Helvetica, sans-serif" font-weight="bold" fill="#000">Time (s)</text>
<text transform="translate(175.35,2100.63) scale(0.44545,0.46667)" font-size="100" font-family="Liberation Sans, Arial, Helvetica, sans-serif" font-weight="bold" fill="#000"><tspan font-family="NanumGothic, Liberation Sans, sans-serif" font-size="92" stroke="#000" stroke-width="3">1</tspan>·5</text>
<text transform="translate(175.20,2214.24) scale(0.45038,0.45694)" font-size="100" font-family="Liberation Sans, Arial, Helvetica, sans-serif" font-weight="bold" fill="#000"><tspan font-family="NanumGothic, Liberation Sans, sans-serif" font-size="92" stroke="#000" stroke-width="3">1</tspan>·2</text>
<text transform="translate(176.75,2330.03) scale(0.43650,0.47465)" font-size="100" font-family="Liberation Sans, Arial, Helvetica, sans-serif" font-weight="bold" fill="#000">0·9</text>
<text transform="translate(176.75,2444.12) scale(0.43650,0.48169)" font-size="100" font-family="Liberation Sans, Arial, Helvetica, sans-serif" font-weight="bold" fill="#000">0·6</text>
<text transform="translate(176.75,2556.73) scale(0.43650,0.47042)" font-size="100" font-family="Liberation Sans, Arial, Helvetica, sans-serif" font-weight="bold" fill="#000">0·3</text>
<text transform="translate(209.18,2667.73) scale(0.48085,0.47042)" font-size="100" font-family="Liberation Sans, Arial, Helvetica, sans-serif" font-weight="bold" fill="#000">0</text>
<text transform="translate(234.05,2718.22) scale(0.48173,0.48169)" font-size="100" font-family="Liberation Sans, Arial, Helvetica, sans-serif" font-weight="bold" fill="#000">20</text>
<text transform="translate(511.66,2718.22) scale(0.47143,0.48169)" font-size="100" font-family="Liberation Sans, Arial, Helvetica, sans-serif" font-weight="bold" fill="#000">40</text>
<text transform="translate(786.27,2718.22) scale(0.48155,0.48169)" font-size="100" font-family="Liberation Sans, Arial, Helvetica, sans-serif" font-weight="bold" fill="#000">60</text>
<text transform="translate(1060.80,2718.22) scale(0.46635,0.48169)" font-size="100" font-family="Liberation Sans, Arial, Helvetica, sans-serif" font-weight="bold" fill="#000">80</text>
<text transform="translate(1320.01,2718.22) scale(0.46928,0.47500)" font-size="100" font-family="Liberation Sans, Arial, Helvetica, sans-serif" font-weight="bold" fill="#000"><tspan font-family="NanumGothic, Liberation Sans, sans-serif" font-size="92" stroke="#000" stroke-width="3">1</tspan>00</text>
<text transform="translate(285.20,2136.29) scale(0.46636,0.45745)" font-size="100" font-family="Liberation Sans, Arial, Helvetica, sans-serif" font-weight="normal" fill="#000">(<tspan font-style="italic">f</tspan> )</text>
<text transform="translate(454.88,2225.23) scale(0.51673,0.37027)" font-size="100" font-family="Liberation Sans, Arial, Helvetica, sans-serif" font-weight="bold" fill="#000">Model</text>
<text transform="translate(456.59,2265.01) scale(0.47855,0.39155)" font-size="100" font-family="Liberation Sans, Arial, Helvetica, sans-serif" font-weight="bold" fill="#000">95% CI</text>
<text transform="translate(457.02,2308.22) scale(0.49243,0.37568)" font-size="100" font-family="Liberation Sans, Arial, Helvetica, sans-serif" font-weight="bold" fill="#000">A/Moscow/<tspan font-family="NanumGothic, Liberation Sans, sans-serif" font-size="92" stroke="#000" stroke-width="3">1</tspan>0/99</text>
<text transform="translate(457.00,2346.64) scale(0.50036,0.36351)" font-size="100" font-family="Liberation Sans, Arial, Helvetica, sans-serif" font-weight="bold" fill="#000">A/Brazil/<tspan font-family="NanumGothic, Liberation Sans, sans-serif" font-size="92" stroke="#000" stroke-width="3">1</tspan><tspan font-family="NanumGothic, Liberation Sans, sans-serif" font-size="92" stroke="#000" stroke-width="3">1</tspan>/78-like</text>
<text transform="translate(455.04,2385.94) scale(0.49480,0.35541)" font-size="100" font-family="Liberation Sans, Arial, Helvetica, sans-serif" font-weight="bold" fill="#000">PR8 strain</text>
<text transform="translate(578.71,2778.80) scale(0.45586,0.47101)" font-size="100" font-family="Liberation Sans, Arial, Helvetica, sans-serif" font-weight="bold" fill="#000">Relative humidity (%)</text>
<text transform="translate(130.20,2606.54) rotate(-90) scale(0.47692,0.46667)" font-size="100" font-family="Liberation Sans, Arial, Helvetica, sans-serif" font-weight="bold" fill="#000">Inactivation rate (h<tspan font-size="72" font-weight="bold" stroke="#000" stroke-width="1.5" dy="-32">−</tspan><tspan font-size="68" font-weight="normal" font-family="NanumGothic, Liberation Sans, sans-serif" stroke="#000" stroke-width="1.5" dx="-9" dy="-6">1</tspan><tspan dy="38" dx="-6">)</tspan></text>
</svg></body></html>
